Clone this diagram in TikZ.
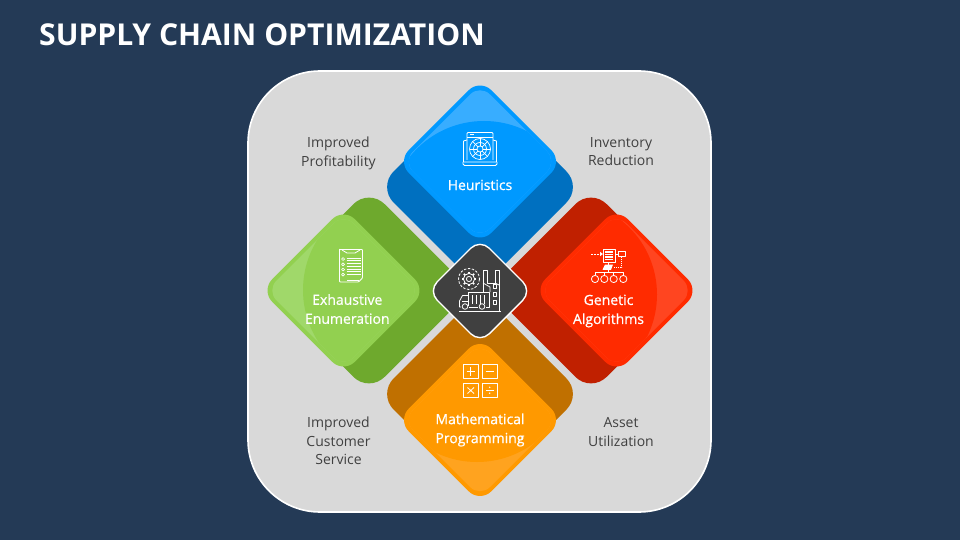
\documentclass[tikz,border=0pt]{standalone}
\usepackage{fontspec}
\setmainfont{Open Sans}
\newfontface\semifont[FakeBold=0.7]{Open Sans}
\newcommand{\diam}[5]{\path[#1,rounded corners=#5] (#2+#4/2,#3-#4/2) -- (#2+#4,#3) -- (#2,#3+#4) -- (#2-#4,#3) -- (#2,#3-#4) -- cycle;}
\newcommand{\gem}[7]{%
  \diam{fill=#1}{#3}{#4}{82.6}{16}
  \begin{scope}
    \path[clip,rounded corners=14] (#3+38.5,#4-38.5) -- (#3+77,#4) -- (#3,#4+77) -- (#3-77,#4) -- (#3,#4-77) -- cycle;
    \fill[#2] (#3-90,#4-90) rectangle (#3+90,#4+90);
    \fill[#1] (#5,#6) circle[radius=#7];
  \end{scope}}
\tikzset{
  x=1pt,y=-1pt,
  icon/.style={draw=white,line width=0.8pt,line join=round},
  iconfill/.style={fill=white,draw=none},
  label/.style={text=labelgray,align=center,font=\fontsize{14}{18.7}\selectfont},
  gemtext/.style={text=white,align=center,font=\semifont\fontsize{14}{19}\selectfont},
}
\definecolor{bg}{HTML}{243A56}
\definecolor{panel}{HTML}{D9D9D9}
\definecolor{labelgray}{HTML}{404040}
\definecolor{blueA}{HTML}{0099FF}\definecolor{blueB}{HTML}{0070C0}\definecolor{blueC}{HTML}{38ADFF}
\definecolor{redA}{HTML}{FF2B00}\definecolor{redB}{HTML}{C02000}\definecolor{redC}{HTML}{FF4520}
\definecolor{greenA}{HTML}{92D050}\definecolor{greenB}{HTML}{6EA92D}\definecolor{greenC}{HTML}{A0D86A}
\definecolor{orangeA}{HTML}{FF9900}\definecolor{orangeB}{HTML}{C07000}\definecolor{orangeC}{HTML}{FFA31F}
\begin{document}
\begin{tikzpicture}
\useasboundingbox (0,0) rectangle (960,540);
\fill[bg] (0,0) rectangle (960,540);
\node[anchor=west,text=white,inner sep=0pt,font=\fontsize{30.1}{36}\selectfont\bfseries] (title) at (39,34.5) {SUPPLY CHAIN OPTIMIZATION};
\path[fill=panel,draw=white,line width=1.6pt,rounded corners=72] (480,71) -- (711,71) -- (711,512) -- (248,512) -- (248,71) -- cycle;
% dark backing diamonds
\diam{fill=blueB}{480}{187}{102}{22}
\diam{fill=redB}{591}{290.5}{102}{22}
\diam{fill=greenB}{369}{290.5}{102}{22}
\diam{fill=orangeB}{480}{394}{102}{22}
% bright diamonds with highlight
\gem{blueA}{blueC}{480}{161.5}{484}{216}{95}
\gem{redA}{redC}{616.5}{290.5}{562}{294.5}{95}
\gem{greenA}{greenC}{343.5}{290.5}{398}{290}{95}
\gem{orangeA}{orangeC}{480}{420}{477}{367}{95}
% centre
\diam{fill=labelgray,draw=white,line width=1.4pt}{480}{291}{52}{13}
% labels
\node[label] (l1) at (338.5,153.5) {Improved\\Profitability};
\node[label] (l2) at (621,151.5) {Inventory\\Reduction};
\node[label] (l3) at (338.5,441) {Improved\\Customer\\Service};
\node[label] (l4) at (621,432) {Asset\\Utilization};
\node[gemtext] (g1) at (480,185) {Heuristics};
\node[gemtext] (g2) at (608.5,311) {Genetic\\Algorithms};
\node[gemtext] (g3) at (347.3,309) {Exhaustive\\Enumeration};
\node[gemtext] (g4) at (480,430) {Mathematical\\Programming};
% heuristics icon
\draw[icon,rounded corners=1] (467,160) -- (467,132.5) -- (493,132.5) -- (493,160);
\draw[icon] (467,137) -- (493,137);
\draw[icon] (467,140) -- (463.5,141) -- (463.5,162) -- (496.5,162) -- (496.5,141) -- (493,140);
\draw[icon,rounded corners=1.5] (463,162) -- (463,165.5) -- (497,165.5) -- (497,162);
\draw[icon,line width=0.7pt] (480,149) circle[radius=10.5] (480,149) circle[radius=6.5] (480,149) circle[radius=3];
\foreach \a in {0,45,...,315}{\draw[icon,line width=0.7pt] (480,149) ++(\a:3) -- ++(\a:7.5);}
\draw[icon] (470,134.8) -- (474,134.8);
% centre icon
\draw[icon] (469,279) circle[radius=2.6] (469,279) circle[radius=5.6];
\foreach \a in {0,45,...,315}{\draw[draw=white,line width=1.7pt] (469,279) ++(\a:5.4) -- ++(\a:2);}
\draw[icon,dash pattern=on 2.5pt off 1.5pt] (469,279) circle[radius=10.5];
\draw[icon] (483,292) -- (483,270.5) -- (487,270.5) -- (487,283) -- (495,283) -- (495,270.5) -- (499,270.5) -- (499,311);
\draw[icon] (483,283) -- (490,287) -- (490,292);
\draw[icon] (495,283) -- (499,285);
\draw[icon] (459,311) -- (500.5,311);
\draw[icon] (468,306) -- (468,292) -- (489,292) -- (489,307) -- (486,307) (478,307) -- (469,307);
\foreach \x in {472,476,480,484}{\draw[icon,line width=0.6pt] (\x,295) -- (\x,304);}
\draw[icon] (468,295.5) -- (462.5,295.5) -- (459.5,301) -- (459.5,307) -- (461,307);
\draw[icon] (462,301) -- (468,301);
\draw[icon] (465,306.5) circle[radius=2.8] (482,306.5) circle[radius=2.8];
\foreach \y in {286.5,294.5,302.5}{\draw[icon,line width=0.7pt] (493.5,\y-1.8) rectangle (496.5,\y+1.8);}
% genetic algorithms icon
\draw[icon] (603,249.5) rectangle (615,262);
\foreach \y in {252,254.5,257,259.5}{\draw[icon,line width=1.2pt] (605,\y) -- (613,\y);}
\draw[icon,dash pattern=on 2pt off 1.2pt] (591,254) -- (600,254);
\fill[white] (600,251.8) -- (603,254) -- (600,256.2) -- cycle;
\draw[icon] (615,254) -- (618,254);
\draw[icon] (618,251) rectangle (625,256.5);
\draw[icon,dash pattern=on 1pt off 1pt] (621.5,256.5) -- (621.5,267.5) -- (613,267.5);
\path[iconfill] (605,264.5) -- (613,264.5) -- (611,269.8) -- (602.5,269.8) -- cycle;
\draw[icon] (608,262) -- (608,264.5) (608,269.8) -- (608,272);
\draw[icon] (595,275.3) -- (595,272) -- (623.3,272) -- (623.3,275.3);
\draw[icon] (604.3,272) -- (604.3,275.3) (613.7,272) -- (613.7,275.3);
\foreach \x in {595,604.3,613.7,623.3}{\draw[icon] (\x,279) circle[radius=3.6];}
% exhaustive enumeration icon
\draw[icon,rounded corners=0.8] (339.5,250) -- (339.5,282) -- (358.5,282) -- (362.5,278) -- (362.5,249.5) -- (339.5,249.5) -- cycle;
\draw[icon] (342,250) -- (347,253) -- (355,253) -- (360,250);
\foreach \y in {259,264.3,269.5,274.7}{\draw[icon,line width=0.7pt] (343,\y) circle[radius=1.5];}
\foreach \y in {258,260.8,263.5,266.2,269,271.8,274.5}{\draw[icon,line width=0.7pt] (346.5,\y) -- (361,\y);}
\draw[icon,line width=0.7pt] (347,280) -- (359,280);
% mathematical programming icon
\draw[icon,line width=1pt] (463.5,364.5) rectangle (478,378);
\draw[icon,line width=1pt] (482.5,364.5) rectangle (497,378);
\draw[icon,line width=1pt] (463.5,383.5) rectangle (478,397);
\draw[icon,line width=1pt] (482.5,383.5) rectangle (497,397);
\draw[icon] (466.5,371.2) -- (475,371.2) (470.7,367) -- (470.7,375.5);
\draw[icon] (485.5,371.2) -- (494,371.2);
\draw[icon] (467.5,387.5) -- (474,393.5) (474,387.5) -- (467.5,393.5);
\draw[icon] (486,390.2) -- (493.5,390.2);
\fill[white] (489.7,387.3) circle[radius=0.8] (489.7,393.2) circle[radius=0.8];
\end{tikzpicture}
\end{document}
